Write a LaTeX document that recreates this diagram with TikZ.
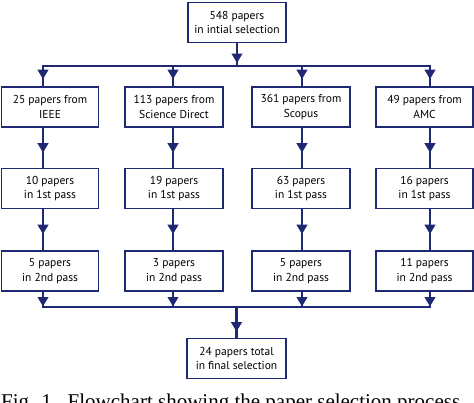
\documentclass[tikz,border=0pt]{standalone}
\usepackage{fontspec}
\setmainfont{Liberation Serif}
\newfontfamily\boxfont{PT Sans}
\usetikzlibrary{arrows.meta, decorations.markings}
\definecolor{navy}{RGB}{30,40,115}

\begin{document}
\begin{tikzpicture}[
		x=1pt, y=-1pt,
		box/.style={rectangle, draw=navy, line width=1.6pt, minimum width=98pt, minimum height=40pt,
			align=center, inner sep=0pt, font=\boxfont\fontsize{11.5}{14.5}\selectfont},
		flow/.style={draw=navy, line width=2.6pt},
		into/.style={postaction={decorate}, decoration={markings,
			mark=at position -#1 with {\arrow[navy]{Triangle[width=10.5pt,length=9.5pt]}}}}
	]
  \useasboundingbox (0,0) rectangle (474,402);
  % boxes
  \node (start) [box] at (237,22.5) {548 papers\\in intial selection};
  \node (ieee) [box, minimum width=97pt] at (50,107) {25 papers from\\IEEE};
  \node (sd) [box] at (174,107) {113 papers from\\Science Direct};
  \node (scopus) [box] at (301,107) {361 papers from\\Scopus};
  \node (amc) [box, minimum width=97pt] at (424.5,107) {49 papers from\\AMC};
  \node (ieee_1) [box, minimum width=97pt] at (50,188.5) {10 papers\\in 1st pass};
  \node (sd_1) [box] at (174,188.5) {19 papers\\in 1st pass};
  \node (scopus_1) [box] at (301,188.5) {63 papers\\in 1st pass};
  \node (amc_1) [box, minimum width=97pt] at (424.5,188.5) {16 papers\\in 1st pass};
  \node (ieee_2) [box, minimum width=97pt] at (50,271) {5 papers\\in 2nd pass};
  \node (sd_2) [box] at (174,271) {3 papers\\in 2nd pass};
  \node (scopus_2) [box] at (301,271) {5 papers\\in 2nd pass};
  \node (amc_2) [box, minimum width=97pt] at (424.5,271) {11 papers\\in 2nd pass};
  \node (final) [box, minimum width=99pt] at (236.5,358.5) {24 papers total\\in final selection};
  % split and join lines
  \coordinate (t1) at (43,66);
  \coordinate (t2) at (173,66);
  \coordinate (t3) at (302,66);
  \coordinate (t4) at (430,66);
  \coordinate (b1) at (43,307);
  \coordinate (b2) at (173,307);
  \coordinate (b3) at (302,307);
  \coordinate (b4) at (430,307);
  \draw [flow, into=3pt] (start) -- (start |- t1);
  \draw [flow, line cap=rect] (t1) -- (t4);
  \foreach \c/\a/\b/\d [count=\i] in {ieee/ieee_1/ieee_2/b1, sd/sd_1/sd_2/b2, scopus/scopus_1/scopus_2/b3, amc/amc_1/amc_2/b4} {
    \draw [flow, into=7pt] (t\i) -- (\c.north -| t\i);
    \draw [flow, into=15pt] (\c.south -| t\i) -- (\a.north -| t\i);
    \draw [flow, into=16pt] (\a.south -| t\i) -- (\b.north -| t\i);
    \draw [flow, into=0.5pt] (\b.south -| t\i) -- (\d);
  }
  \draw [flow, line cap=rect] (b1) -- (b4);
  \draw [flow, into=6pt] (final |- b1) -- (final.north);
  % caption, cut off at the bottom edge as in the scan
  \begin{scope}
    \clip (0,0) rectangle (474,402);
    \node (caption) [anchor=base west, inner sep=0pt, font=\fontsize{21}{25}\selectfont] at (1,408)
      {Fig. 1.\ \ Flowchart showing the paper selection process};
  \end{scope}
\end{tikzpicture}
\end{document}
